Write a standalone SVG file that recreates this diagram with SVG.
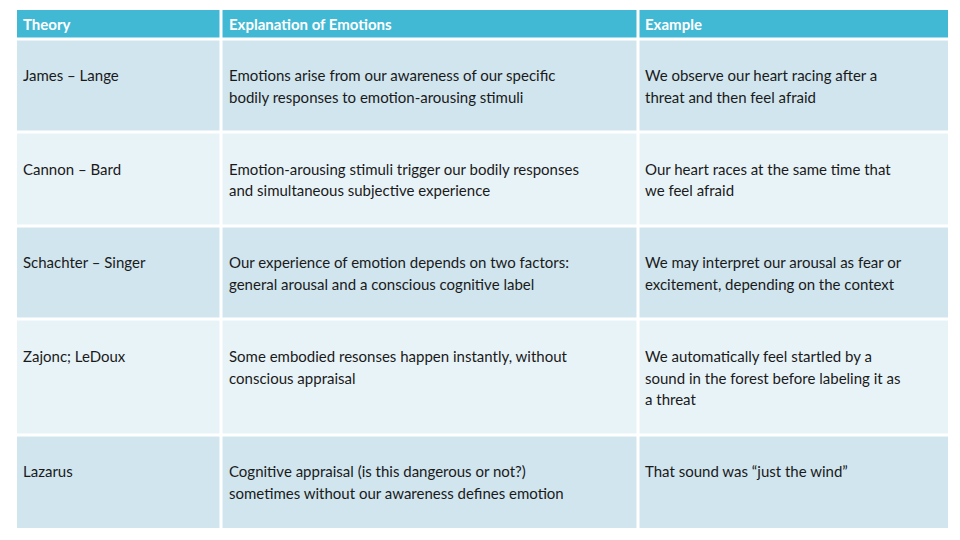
<svg xmlns="http://www.w3.org/2000/svg" width="960" height="540" viewBox="0 0 960 540">
<style>
.h{fill:#42B9D4}.d{fill:#D0E5EE}.l{fill:#E8F3F8}
text{font-family:Lato,"Open Sans",sans-serif;font-size:15px;fill:#1a1a1a}
.ht{fill:#fff;font-weight:bold}
line{stroke:#fff;stroke-width:3}
</style>
<rect width="960" height="540" fill="#fff"/>
<g id="cells">
<rect class="h" x="17" y="10" width="931" height="29"/>
<rect class="d" x="17" y="39" width="931" height="93"/>
<rect class="l" x="17" y="132" width="931" height="94"/>
<rect class="d" x="17" y="226" width="931" height="93"/>
<rect class="l" x="17" y="319" width="931" height="116"/>
<rect class="d" x="17" y="435" width="931" height="93"/>
</g>
<g id="grid">
<line x1="221" y1="10" x2="221" y2="528"/><line x1="638" y1="10" x2="638" y2="528"/>
<line x1="17" y1="39" x2="948" y2="39"/><line x1="17" y1="132" x2="948" y2="132"/>
<line x1="17" y1="226" x2="948" y2="226"/><line x1="17" y1="319" x2="948" y2="319"/>
<line x1="17" y1="435" x2="948" y2="435"/>
</g>
<g id="header">
<text class="ht" x="23" y="30">Theory</text>
<text class="ht" x="229" y="30">Explanation of Emotions</text>
<text class="ht" x="645" y="30">Example</text>
</g>
<g id="row1">
<text x="23" y="81">James – Lange</text>
<text x="229" y="81">Emotions arise from our awareness of our specific</text>
<text x="229" y="103">bodily responses to emotion-arousing stimuli</text>
<text x="645" y="81">We observe our heart racing after a</text>
<text x="645" y="103">threat and then feel afraid</text>
</g>
<g id="row2">
<text x="23" y="175">Cannon – Bard</text>
<text x="229" y="175">Emotion-arousing stimuli trigger our bodily responses</text>
<text x="229" y="196">and simultaneous subjective experience</text>
<text x="645" y="175">Our heart races at the same time that</text>
<text x="645" y="196">we feel afraid</text>
</g>
<g id="row3">
<text x="23" y="268">Schachter – Singer</text>
<text x="229" y="268">Our experience of emotion depends on two factors:</text>
<text x="229" y="290">general arousal and a conscious cognitive label</text>
<text x="645" y="268">We may interpret our arousal as fear or</text>
<text x="645" y="290">excitement, depending on the context</text>
</g>
<g id="row4">
<text x="23" y="362">Zajonc; LeDoux</text>
<text x="229" y="362">Some embodied resonses happen instantly, without</text>
<text x="229" y="384">conscious appraisal</text>
<text x="645" y="362">We automatically feel startled by a</text>
<text x="645" y="384">sound in the forest before labeling it as</text>
<text x="645" y="405">a threat</text>
</g>
<g id="row5">
<text x="23" y="477">Lazarus</text>
<text x="229" y="477">Cognitive appraisal (is this dangerous or not?)</text>
<text x="229" y="499">sometimes without our awareness defines emotion</text>
<text x="645" y="477">That sound was “just the wind”</text>
</g>
</svg>
